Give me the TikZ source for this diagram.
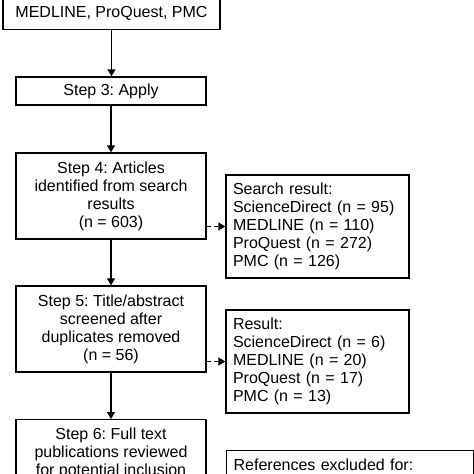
\documentclass[tikz,border=0pt]{standalone}
\usepackage{fontspec}
\setmainfont{Liberation Sans}
\usetikzlibrary{arrows.meta,calc}
\frenchspacing
\begin{document}
\begin{tikzpicture}[x=1pt,y=-1pt,
  box/.style={draw=black,line width=1.3pt,font=\fontsize{16}{18}\selectfont\frenchspacing,inner sep=0pt},
  stepbox/.style={box,minimum width=190pt,minimum height=86pt,inner ysep=8.5pt,align=center},
  listbox/.style={box,text width=169pt,inner xsep=7pt,align=left,minimum height=103pt},
  flow/.style={line width=1.3pt,-{Triangle[width=8pt,length=7pt]}},
  side/.style={flow,dash pattern=on 4pt off 3pt}]
\useasboundingbox (0,0) rectangle (474,474);
\node[box,minimum width=217pt,inner ysep=8.5pt,align=center,anchor=south] (top) at (111.5,30) {\mbox{}\\MEDLINE, ProQuest, PMC};
\node[stepbox,minimum height=28pt,inner ysep=0pt] (s3) at (111,91) {Step 3: Apply};
\node[stepbox] (s4) at (111,196) {Step 4: Articles\\identified from search\\results\\(n = 603)};
\node[stepbox] (s5) at (111,329) {Step 5: Title/abstract\\screened after\\duplicates removed\\(n = 56)};
\node[stepbox,minimum height=0pt,anchor=north] (s6) at (111,419) {Step 6: Full text\\publications reviewed\\for potential inclusion};
\node[listbox] (sr) at (317.5,226.5) {Search result:\\ScienceDirect (n = 95)\\MEDLINE (n = 110)\\ProQuest (n = 272)\\PMC (n = 126)};
\node[listbox] (rr) at (317.5,361.5) {Result:\\ScienceDirect (n = 6)\\MEDLINE (n = 20)\\ProQuest (n = 17)\\PMC (n = 13)};
\node[listbox,text width=233pt,minimum height=0pt,inner ysep=8pt,anchor=north west] (ref) at (226,450) {References excluded for:};
\draw[flow] (top.south) -- (top.south |- s3.north);
\draw[flow] (s3) -- (s4);
\draw[flow] (s4) -- (s5);
\draw[flow] (s5) -- (s6);
\draw[side] (s4.east |- sr.west) -- (sr.west);
\draw[side] (s5.east |- rr.west) -- (rr.west);
\end{tikzpicture}
\end{document}
